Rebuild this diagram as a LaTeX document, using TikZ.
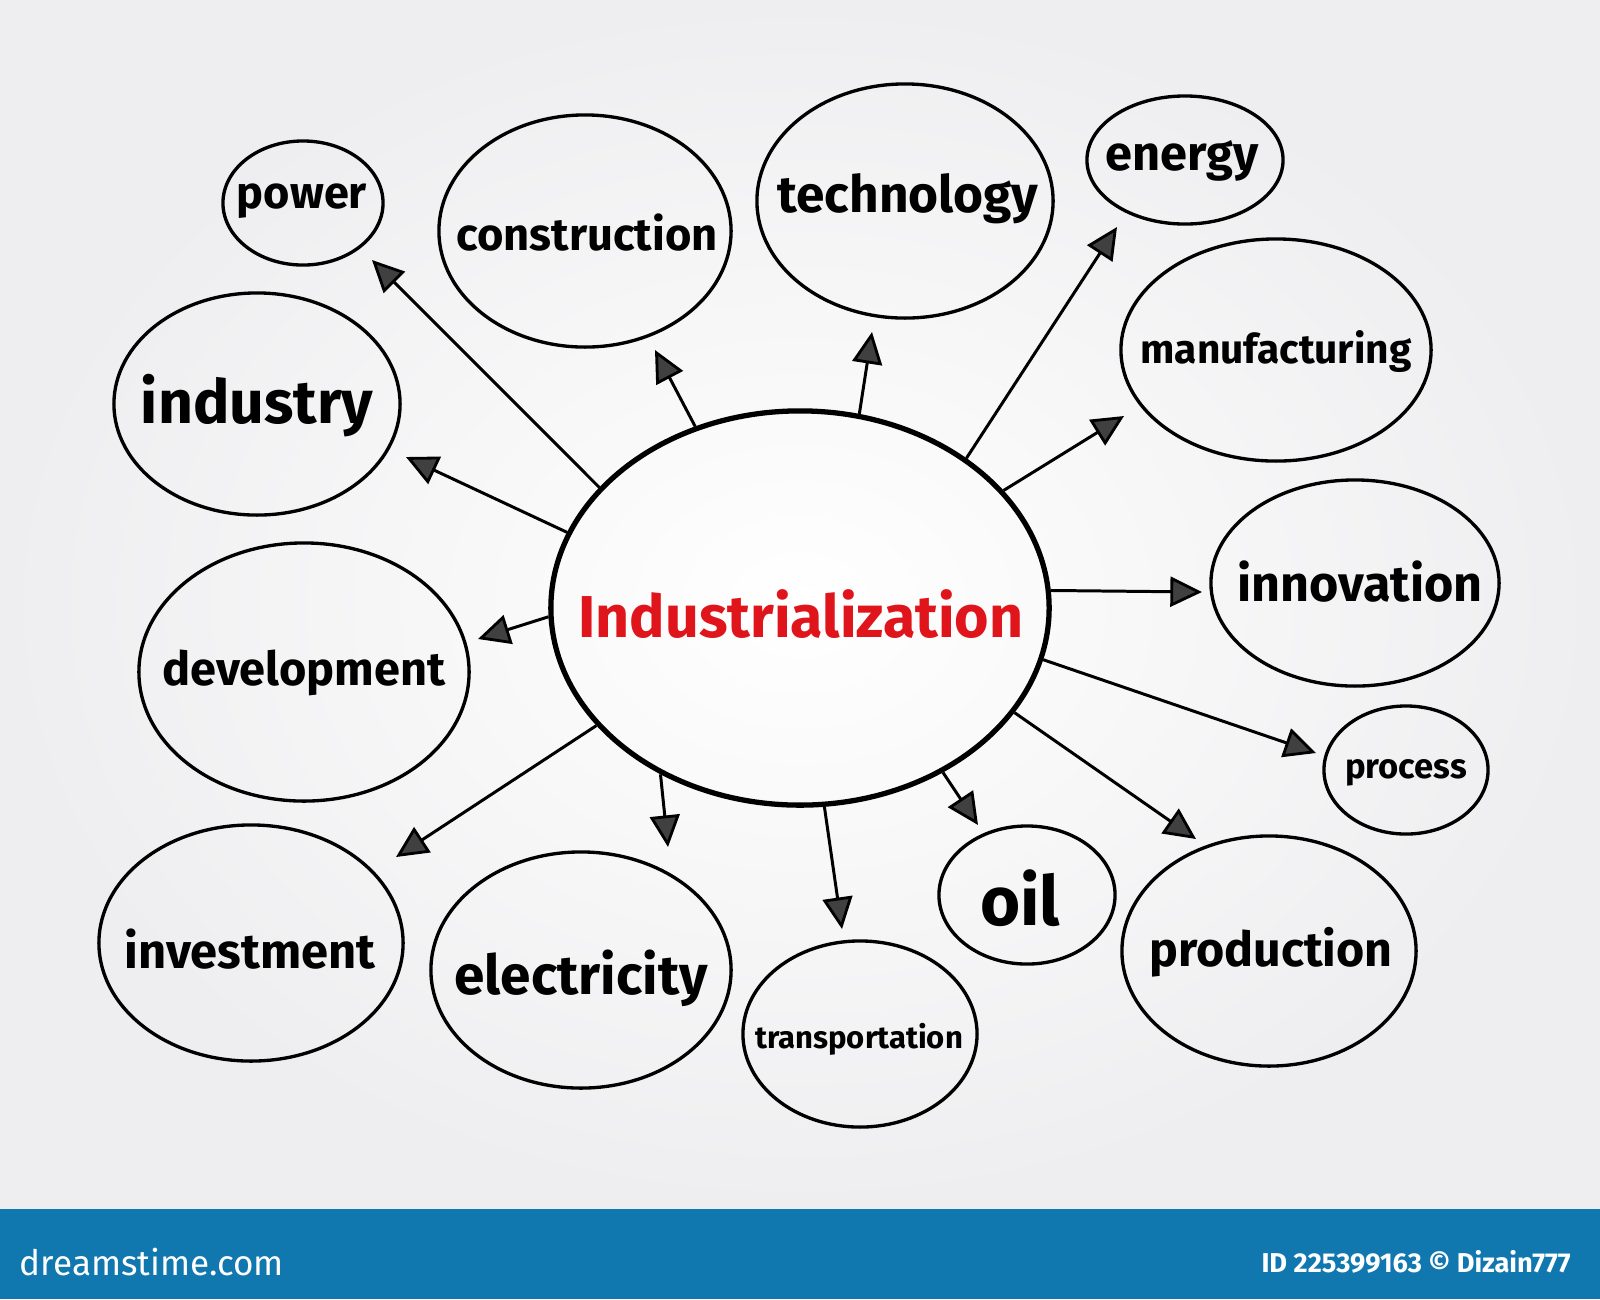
\documentclass[tikz,border=0pt]{standalone}
\usepackage{fontspec}
\setmainfont{Fira Sans}
\usetikzlibrary{arrows.meta,shapes.geometric}
\definecolor{barblue}{HTML}{1077AF}
\definecolor{hred}{HTML}{E0141B}
\definecolor{bgedge}{HTML}{EEEEF0}
\newlength\pxu
\setlength\pxu{0.01cm}
\newcommand{\fitw}[2]{\resizebox{#1\pxu}{!}{#2}}
\tikzset{
  bub/.style={ellipse, draw=black, line width=0.95pt, inner sep=0pt},
  hub/.style={ellipse, draw=black, line width=1.5pt, inner sep=0pt},
  txt/.style={inner sep=0pt, font=\bfseries, text=black},
  con/.style={line width=0.85pt, draw=black,
    -{Triangle[length=9pt,width=8.5pt,fill=black!75,line width=0.8pt]}},
}
\begin{document}
\begin{tikzpicture}[x=0.01cm,y=-0.01cm]
\useasboundingbox (0,0) rectangle (1600,1299);
\shade[inner color=white, outer color=bgedge, shading=radial] (0,0) rectangle (1600,1209);
\fill[barblue] (0,1209) rectangle (1600,1299);
\node[inner sep=0pt, text=white] (brand) at (152,1262) {\fitw{264}{dreamstime.com}};
\node[inner sep=0pt, text=white, font=\bfseries] (credit) at (1416,1262) {\fitw{309}{ID 225399163 © Dizain777}};

% central
\node[hub, minimum width=4.98cm, minimum height=3.94cm] (c) at (800,608) {};
\node[inner sep=0pt, text=hred, font=\bfseries] (c-t) at (801,614) {\fitw{445}{Industrialization}};

% satellites
\node[bub, minimum width=1.60cm, minimum height=1.24cm] (power) at (303,203) {};
\node[txt] (power-t) at (302,201) {\fitw{130}{power}};
\node[bub, minimum width=2.92cm, minimum height=2.32cm] (construction) at (585,231) {};
\node[txt] (construction-t) at (587,233) {\fitw{261}{construction}};
\node[bub, minimum width=2.96cm, minimum height=2.34cm] (technology) at (905,201) {};
\node[txt] (technology-t) at (908,199) {\fitw{261}{technology}};
\node[bub, minimum width=1.96cm, minimum height=1.28cm] (energy) at (1185,160) {};
\node[txt] (energy-t) at (1182,161) {\fitw{153}{energy}};
\node[bub, minimum width=3.10cm, minimum height=2.22cm] (manufacturing) at (1276,350) {};
\node[txt] (manufacturing-t) at (1276,352) {\fitw{271}{manufacturing}};
\node[bub, minimum width=2.86cm, minimum height=2.22cm] (industry) at (257,404) {};
\node[txt] (industry-t) at (257,406) {\fitw{232}{industry}};
\node[bub, minimum width=2.88cm, minimum height=2.06cm] (innovation) at (1355,583) {};
\node[txt] (innovation-t) at (1360,582) {\fitw{245}{innovation}};
\node[bub, minimum width=3.30cm, minimum height=2.58cm] (development) at (304,672) {};
\node[txt] (development-t) at (304,673) {\fitw{283}{development}};
\node[bub, minimum width=1.64cm, minimum height=1.28cm] (process) at (1406,770) {};
\node[txt] (process-t) at (1406,773) {\fitw{122}{process}};
\node[bub, minimum width=3.04cm, minimum height=2.36cm] (investment) at (251,943) {};
\node[txt] (investment-t) at (250,949) {\fitw{251}{investment}};
\node[bub, minimum width=3.00cm, minimum height=2.36cm] (electricity) at (581,970) {};
\node[txt] (electricity-t) at (581,978) {\fitw{253}{electricity}};
\node[bub, minimum width=2.34cm, minimum height=1.86cm] (transportation) at (860,1034) {};
\node[txt] (transportation-t) at (859,1039) {\fitw{208}{transportation}};
\node[bub, minimum width=1.76cm, minimum height=1.38cm] (oil) at (1027,895) {};
\node[txt] (oil-t) at (1020,898) {\fitw{80}{oil}};
\node[bub, minimum width=2.94cm, minimum height=2.30cm] (production) at (1269,951) {};
\node[txt] (production-t) at (1271,952) {\fitw{243}{production}};

% arrow tips
\coordinate (t-power) at (372,260);
\coordinate (t-construction) at (655,350);
\coordinate (t-technology) at (872,332);
\coordinate (t-energy) at (1117,227);
\coordinate (t-manufacturing) at (1124,416);
\coordinate (t-industry) at (406,457);
\coordinate (t-innovation) at (1202,592);
\coordinate (t-development) at (478,639);
\coordinate (t-process) at (1316,753);
\coordinate (t-investment) at (396,857);
\coordinate (t-electricity) at (668,847);
\coordinate (t-transportation) at (842,929);
\coordinate (t-oil) at (978,825);
\coordinate (t-production) at (1196,839);

\draw[con] (c.149.4) -- (t-power);
\draw[con] (c.120.7) -- (t-construction);
\draw[con] (c.73.9) -- (t-technology);
\draw[con] (c.42.9) -- (t-energy);
\draw[con] (c.30.6) -- (t-manufacturing);
\draw[con] (c.162.4) -- (t-industry);
\draw[con] (c.4.1) -- (t-innovation);
\draw[con] (c.182.1) -- (t-development);
\draw[con] (c.-12.0) -- (t-process);
\draw[con] (c.210.8) -- (t-investment);
\draw[con] (c.230.4) -- (t-electricity);
\draw[con] (c.277.8) -- (t-transportation);
\draw[con] (c.311.5) -- (t-oil);
\draw[con] (c.334.8) -- (t-production);
\end{tikzpicture}
\end{document}
